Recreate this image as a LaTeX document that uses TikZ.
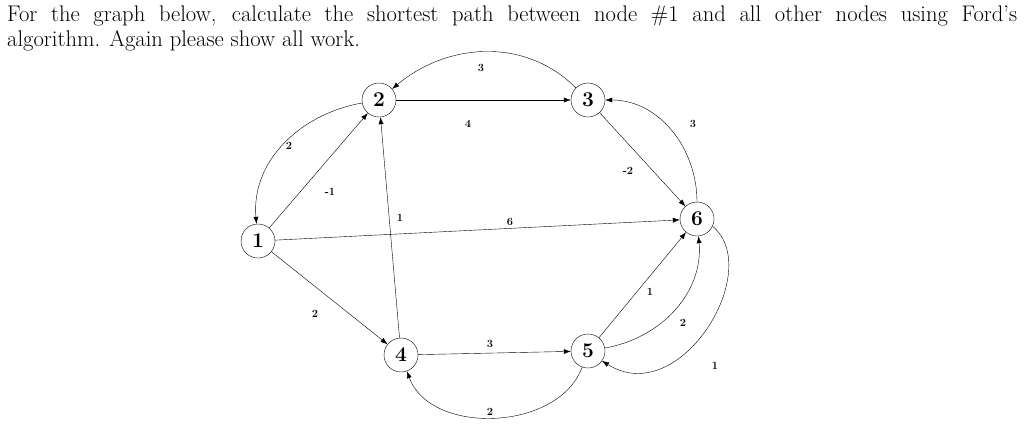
\documentclass[tikz,border=0pt]{standalone}
\usetikzlibrary{arrows.meta}
\begin{document}
\begin{tikzpicture}[x=1pt,y=-1pt,
  vert/.style={circle,draw,thin,minimum size=34pt,inner sep=0pt,font=\fontsize{21}{21}\selectfont\bfseries},
  edge/.style={-{Latex[length=7pt,width=5pt]},thin},
  lab/.style={font=\fontsize{11}{11}\selectfont\bfseries}]
\useasboundingbox (0,0) rectangle (1024,440);
\node[anchor=north west,text width=1010pt,align=justify,inner sep=0pt,font=\fontsize{22.6}{25}\selectfont] (t) at (7,6)
 {For the graph below, calculate the shortest path between node \#1 and all other nodes using Ford's\linebreak algorithm. Again please show all work.};
\node[vert] (n1) at (258,241) {1};
\node[vert] (n2) at (379,100) {2};
\node[vert] (n3) at (588,100) {3};
\node[vert] (n6) at (697,219) {6};
\node[vert] (n5) at (588,351) {5};
\node[vert] (n4) at (401,355) {4};
\draw[edge] (n1) -- (n2);
\draw[edge] (n2) to[out=190,in=95] (n1);
\draw[edge] (n2) -- (n3);
\draw[edge] (n3) to[out=135,in=40] (n2);
\draw[edge] (n3) -- (n6);
\draw[edge] (n6) to[out=90,in=0] (n3);
\draw[edge] (n1) -- (n6);
\draw[edge] (n1) -- (n4);
\draw[edge] (n4) -- (n2);
\draw[edge] (n4) -- (n5);
\draw[edge] (n5) to[out=-110,in=-70] (n4);
\draw[edge] (n5) -- (n6);
\draw[edge] (n5) to[out=10,in=-85] (n6);
\draw[edge] (n6.-25) .. controls (765,270) and (680,410) .. (n5.-35);
\node[lab] (l1) at (330,192) {-1};
\node[lab] (l2) at (289,146) {2};
\node[lab] (l3) at (468,124) {4};
\node[lab] (l4) at (481,68) {3};
\node[lab] (l5) at (628,171) {-2};
\node[lab] (l6) at (693,124) {3};
\node[lab] (l7) at (510,222) {6};
\node[lab] (l8) at (315,314) {2};
\node[lab] (l9) at (400,218) {1};
\node[lab] (l10) at (490,344) {3};
\node[lab] (l11) at (490,412) {2};
\node[lab] (l12) at (650,292) {1};
\node[lab] (l13) at (683,323) {2};
\node[lab] (l14) at (715,366) {1};
\end{tikzpicture}
\end{document}
